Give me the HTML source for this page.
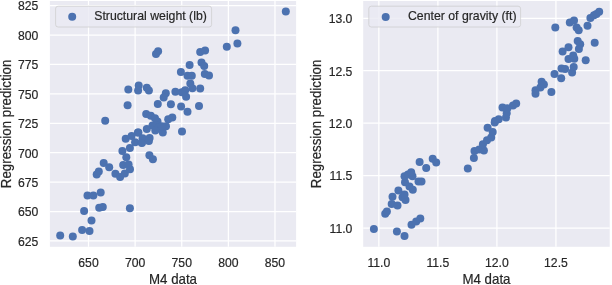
<!DOCTYPE html><html><head><meta charset="utf-8"><style>html,body{margin:0;padding:0;background:#fff;width:612px;height:285px;overflow:hidden}svg{display:block}text{font-family:"Liberation Sans",Arial,sans-serif;fill:#262626;stroke:#262626;stroke-width:0.18px}</style></head><body>
<svg width="612" height="285" viewBox="0 0 612 285">
<rect x="49.9" y="1.0" width="246.20" height="245.80" fill="#EAEAF2"/>
<line x1="88.50" y1="1.0" x2="88.50" y2="246.8" stroke="#fff" stroke-width="1.25"/>
<line x1="135.12" y1="1.0" x2="135.12" y2="246.8" stroke="#fff" stroke-width="1.25"/>
<line x1="181.74" y1="1.0" x2="181.74" y2="246.8" stroke="#fff" stroke-width="1.25"/>
<line x1="228.36" y1="1.0" x2="228.36" y2="246.8" stroke="#fff" stroke-width="1.25"/>
<line x1="274.98" y1="1.0" x2="274.98" y2="246.8" stroke="#fff" stroke-width="1.25"/>
<line x1="49.9" y1="240.94" x2="296.1" y2="240.94" stroke="#fff" stroke-width="1.25"/>
<line x1="49.9" y1="211.53" x2="296.1" y2="211.53" stroke="#fff" stroke-width="1.25"/>
<line x1="49.9" y1="182.12" x2="296.1" y2="182.12" stroke="#fff" stroke-width="1.25"/>
<line x1="49.9" y1="152.72" x2="296.1" y2="152.72" stroke="#fff" stroke-width="1.25"/>
<line x1="49.9" y1="123.31" x2="296.1" y2="123.31" stroke="#fff" stroke-width="1.25"/>
<line x1="49.9" y1="93.90" x2="296.1" y2="93.90" stroke="#fff" stroke-width="1.25"/>
<line x1="49.9" y1="64.49" x2="296.1" y2="64.49" stroke="#fff" stroke-width="1.25"/>
<line x1="49.9" y1="35.09" x2="296.1" y2="35.09" stroke="#fff" stroke-width="1.25"/>
<line x1="49.9" y1="5.68" x2="296.1" y2="5.68" stroke="#fff" stroke-width="1.25"/>
<circle cx="60.2" cy="235.6" r="4.0" fill="#4C72B0"/>
<circle cx="72.8" cy="236.6" r="4.0" fill="#4C72B0"/>
<circle cx="82.1" cy="230.1" r="4.0" fill="#4C72B0"/>
<circle cx="89.5" cy="231.1" r="4.0" fill="#4C72B0"/>
<circle cx="91.5" cy="220.5" r="4.0" fill="#4C72B0"/>
<circle cx="84.1" cy="211.1" r="4.0" fill="#4C72B0"/>
<circle cx="99.2" cy="207.8" r="4.0" fill="#4C72B0"/>
<circle cx="102.8" cy="207.1" r="4.0" fill="#4C72B0"/>
<circle cx="87.5" cy="195.6" r="4.0" fill="#4C72B0"/>
<circle cx="93.4" cy="195.4" r="4.0" fill="#4C72B0"/>
<circle cx="100.7" cy="192.5" r="4.0" fill="#4C72B0"/>
<circle cx="129.9" cy="208.3" r="4.0" fill="#4C72B0"/>
<circle cx="103.7" cy="163.0" r="4.0" fill="#4C72B0"/>
<circle cx="109.2" cy="167.2" r="4.0" fill="#4C72B0"/>
<circle cx="98.8" cy="171.5" r="4.0" fill="#4C72B0"/>
<circle cx="96.7" cy="174.4" r="4.0" fill="#4C72B0"/>
<circle cx="115.4" cy="173.8" r="4.0" fill="#4C72B0"/>
<circle cx="120.1" cy="177.1" r="4.0" fill="#4C72B0"/>
<circle cx="124.8" cy="173.6" r="4.0" fill="#4C72B0"/>
<circle cx="130.0" cy="169.3" r="4.0" fill="#4C72B0"/>
<circle cx="123.2" cy="165.1" r="4.0" fill="#4C72B0"/>
<circle cx="128.6" cy="164.4" r="4.0" fill="#4C72B0"/>
<circle cx="126.3" cy="157.2" r="4.0" fill="#4C72B0"/>
<circle cx="122.4" cy="150.9" r="4.0" fill="#4C72B0"/>
<circle cx="129.9" cy="148.0" r="4.0" fill="#4C72B0"/>
<circle cx="125.7" cy="138.7" r="4.0" fill="#4C72B0"/>
<circle cx="131.6" cy="136.0" r="4.0" fill="#4C72B0"/>
<circle cx="135.1" cy="142.3" r="4.0" fill="#4C72B0"/>
<circle cx="141.8" cy="142.6" r="4.0" fill="#4C72B0"/>
<circle cx="137.9" cy="132.5" r="4.0" fill="#4C72B0"/>
<circle cx="105.2" cy="120.8" r="4.0" fill="#4C72B0"/>
<circle cx="146.2" cy="113.9" r="4.0" fill="#4C72B0"/>
<circle cx="150.8" cy="115.8" r="4.0" fill="#4C72B0"/>
<circle cx="155.0" cy="118.3" r="4.0" fill="#4C72B0"/>
<circle cx="157.5" cy="121.5" r="4.0" fill="#4C72B0"/>
<circle cx="168.2" cy="119.3" r="4.0" fill="#4C72B0"/>
<circle cx="152.5" cy="125.5" r="4.0" fill="#4C72B0"/>
<circle cx="156.7" cy="125.5" r="4.0" fill="#4C72B0"/>
<circle cx="159.5" cy="126.9" r="4.0" fill="#4C72B0"/>
<circle cx="166.0" cy="126.3" r="4.0" fill="#4C72B0"/>
<circle cx="155.3" cy="130.4" r="4.0" fill="#4C72B0"/>
<circle cx="146.8" cy="129.0" r="4.0" fill="#4C72B0"/>
<circle cx="162.8" cy="132.4" r="4.0" fill="#4C72B0"/>
<circle cx="138.4" cy="132.5" r="4.0" fill="#4C72B0"/>
<circle cx="149.6" cy="138.0" r="4.0" fill="#4C72B0"/>
<circle cx="142.6" cy="138.2" r="4.0" fill="#4C72B0"/>
<circle cx="141.9" cy="143.1" r="4.0" fill="#4C72B0"/>
<circle cx="148.9" cy="141.1" r="4.0" fill="#4C72B0"/>
<circle cx="149.4" cy="155.2" r="4.0" fill="#4C72B0"/>
<circle cx="152.9" cy="159.2" r="4.0" fill="#4C72B0"/>
<circle cx="182.0" cy="131.4" r="4.0" fill="#4C72B0"/>
<circle cx="172.3" cy="117.5" r="4.0" fill="#4C72B0"/>
<circle cx="161.8" cy="126.3" r="4.0" fill="#4C72B0"/>
<circle cx="138.7" cy="85.6" r="4.0" fill="#4C72B0"/>
<circle cx="138.1" cy="90.5" r="4.0" fill="#4C72B0"/>
<circle cx="146.8" cy="87.7" r="4.0" fill="#4C72B0"/>
<circle cx="148.9" cy="90.5" r="4.0" fill="#4C72B0"/>
<circle cx="165.8" cy="93.3" r="4.0" fill="#4C72B0"/>
<circle cx="163.7" cy="97.5" r="4.0" fill="#4C72B0"/>
<circle cx="157.8" cy="104.1" r="4.0" fill="#4C72B0"/>
<circle cx="128.3" cy="89.5" r="4.0" fill="#4C72B0"/>
<circle cx="127.6" cy="105.3" r="4.0" fill="#4C72B0"/>
<circle cx="190.3" cy="83.4" r="4.0" fill="#4C72B0"/>
<circle cx="192.4" cy="88.2" r="4.0" fill="#4C72B0"/>
<circle cx="200.2" cy="88.6" r="4.0" fill="#4C72B0"/>
<circle cx="185.2" cy="90.2" r="4.0" fill="#4C72B0"/>
<circle cx="181.8" cy="92.2" r="4.0" fill="#4C72B0"/>
<circle cx="175.4" cy="91.8" r="4.0" fill="#4C72B0"/>
<circle cx="186.1" cy="96.8" r="4.0" fill="#4C72B0"/>
<circle cx="170.9" cy="104.2" r="4.0" fill="#4C72B0"/>
<circle cx="181.1" cy="106.5" r="4.0" fill="#4C72B0"/>
<circle cx="187.5" cy="111.7" r="4.0" fill="#4C72B0"/>
<circle cx="199.0" cy="105.9" r="4.0" fill="#4C72B0"/>
<circle cx="158.1" cy="51.2" r="4.0" fill="#4C72B0"/>
<circle cx="156.0" cy="54.0" r="4.0" fill="#4C72B0"/>
<circle cx="200.2" cy="51.9" r="4.0" fill="#4C72B0"/>
<circle cx="205.1" cy="50.5" r="4.0" fill="#4C72B0"/>
<circle cx="201.5" cy="62.6" r="4.0" fill="#4C72B0"/>
<circle cx="204.2" cy="66.1" r="4.0" fill="#4C72B0"/>
<circle cx="189.6" cy="65.0" r="4.0" fill="#4C72B0"/>
<circle cx="180.9" cy="72.0" r="4.0" fill="#4C72B0"/>
<circle cx="187.5" cy="75.8" r="4.0" fill="#4C72B0"/>
<circle cx="191.8" cy="75.8" r="4.0" fill="#4C72B0"/>
<circle cx="204.8" cy="73.9" r="4.0" fill="#4C72B0"/>
<circle cx="209.0" cy="75.4" r="4.0" fill="#4C72B0"/>
<circle cx="235.5" cy="30.2" r="4.0" fill="#4C72B0"/>
<circle cx="237.4" cy="43.6" r="4.0" fill="#4C72B0"/>
<circle cx="226.8" cy="46.7" r="4.0" fill="#4C72B0"/>
<circle cx="285.8" cy="11.4" r="4.0" fill="#4C72B0"/>
<rect x="55.6" y="6.2" width="156.00" height="20.80" rx="2.5" fill="#EAEAF2" fill-opacity="0.8" stroke="#cccccc" stroke-opacity="0.8" stroke-width="0.9"/>
<circle cx="72.2" cy="16.8" r="4.0" fill="#4C72B0"/>
<text transform="translate(94.20 20.30) scale(1 1.03)" font-size="12.3">Structural weight (lb)</text>
<text transform="translate(88.50 267.00) scale(1 1.06)" font-size="12.2" text-anchor="middle">650</text>
<text transform="translate(135.12 267.00) scale(1 1.06)" font-size="12.2" text-anchor="middle">700</text>
<text transform="translate(181.74 267.00) scale(1 1.06)" font-size="12.2" text-anchor="middle">750</text>
<text transform="translate(228.36 267.00) scale(1 1.06)" font-size="12.2" text-anchor="middle">800</text>
<text transform="translate(274.98 267.00) scale(1 1.06)" font-size="12.2" text-anchor="middle">850</text>
<text transform="translate(38.40 245.74) scale(1 1.06)" font-size="12.2" text-anchor="end">625</text>
<text transform="translate(38.40 216.33) scale(1 1.06)" font-size="12.2" text-anchor="end">650</text>
<text transform="translate(38.40 186.92) scale(1 1.06)" font-size="12.2" text-anchor="end">675</text>
<text transform="translate(38.40 157.52) scale(1 1.06)" font-size="12.2" text-anchor="end">700</text>
<text transform="translate(38.40 128.11) scale(1 1.06)" font-size="12.2" text-anchor="end">725</text>
<text transform="translate(38.40 98.70) scale(1 1.06)" font-size="12.2" text-anchor="end">750</text>
<text transform="translate(38.40 69.29) scale(1 1.06)" font-size="12.2" text-anchor="end">775</text>
<text transform="translate(38.40 39.89) scale(1 1.06)" font-size="12.2" text-anchor="end">800</text>
<text transform="translate(38.40 10.48) scale(1 1.06)" font-size="12.2" text-anchor="end">825</text>
<text transform="translate(173.00 283.90) scale(1 1.05)" font-size="13.3" text-anchor="middle">M4 data</text>
<text transform="translate(10.90 123.90) rotate(-90) scale(1 1.05)" font-size="13.3" text-anchor="middle">Regression prediction</text>
<rect x="363.2" y="1.0" width="246.50" height="245.80" fill="#EAEAF2"/>
<line x1="378.85" y1="1.0" x2="378.85" y2="246.8" stroke="#fff" stroke-width="1.25"/>
<line x1="437.88" y1="1.0" x2="437.88" y2="246.8" stroke="#fff" stroke-width="1.25"/>
<line x1="496.91" y1="1.0" x2="496.91" y2="246.8" stroke="#fff" stroke-width="1.25"/>
<line x1="555.94" y1="1.0" x2="555.94" y2="246.8" stroke="#fff" stroke-width="1.25"/>
<line x1="363.2" y1="228.00" x2="609.7" y2="228.00" stroke="#fff" stroke-width="1.25"/>
<line x1="363.2" y1="175.57" x2="609.7" y2="175.57" stroke="#fff" stroke-width="1.25"/>
<line x1="363.2" y1="123.15" x2="609.7" y2="123.15" stroke="#fff" stroke-width="1.25"/>
<line x1="363.2" y1="70.73" x2="609.7" y2="70.73" stroke="#fff" stroke-width="1.25"/>
<line x1="363.2" y1="18.30" x2="609.7" y2="18.30" stroke="#fff" stroke-width="1.25"/>
<circle cx="373.9" cy="229.0" r="4.0" fill="#4C72B0"/>
<circle cx="396.9" cy="231.6" r="4.0" fill="#4C72B0"/>
<circle cx="404.5" cy="236.1" r="4.0" fill="#4C72B0"/>
<circle cx="411.5" cy="224.7" r="4.0" fill="#4C72B0"/>
<circle cx="416.2" cy="221.6" r="4.0" fill="#4C72B0"/>
<circle cx="420.3" cy="218.4" r="4.0" fill="#4C72B0"/>
<circle cx="385.2" cy="213.7" r="4.0" fill="#4C72B0"/>
<circle cx="386.9" cy="211.4" r="4.0" fill="#4C72B0"/>
<circle cx="391.7" cy="204.0" r="4.0" fill="#4C72B0"/>
<circle cx="397.5" cy="205.4" r="4.0" fill="#4C72B0"/>
<circle cx="392.5" cy="196.8" r="4.0" fill="#4C72B0"/>
<circle cx="402.5" cy="197.2" r="4.0" fill="#4C72B0"/>
<circle cx="405.5" cy="200.0" r="4.0" fill="#4C72B0"/>
<circle cx="398.4" cy="190.5" r="4.0" fill="#4C72B0"/>
<circle cx="404.5" cy="194.4" r="4.0" fill="#4C72B0"/>
<circle cx="409.5" cy="186.6" r="4.0" fill="#4C72B0"/>
<circle cx="412.8" cy="189.8" r="4.0" fill="#4C72B0"/>
<circle cx="405.0" cy="182.3" r="4.0" fill="#4C72B0"/>
<circle cx="418.5" cy="181.5" r="4.0" fill="#4C72B0"/>
<circle cx="421.5" cy="181.5" r="4.0" fill="#4C72B0"/>
<circle cx="404.5" cy="176.3" r="4.0" fill="#4C72B0"/>
<circle cx="408.0" cy="174.6" r="4.0" fill="#4C72B0"/>
<circle cx="412.5" cy="176.2" r="4.0" fill="#4C72B0"/>
<circle cx="411.2" cy="172.3" r="4.0" fill="#4C72B0"/>
<circle cx="419.6" cy="161.9" r="4.0" fill="#4C72B0"/>
<circle cx="426.2" cy="167.9" r="4.0" fill="#4C72B0"/>
<circle cx="432.7" cy="158.8" r="4.0" fill="#4C72B0"/>
<circle cx="436.2" cy="162.6" r="4.0" fill="#4C72B0"/>
<circle cx="467.8" cy="168.6" r="4.0" fill="#4C72B0"/>
<circle cx="473.9" cy="157.9" r="4.0" fill="#4C72B0"/>
<circle cx="474.5" cy="150.9" r="4.0" fill="#4C72B0"/>
<circle cx="479.2" cy="149.6" r="4.0" fill="#4C72B0"/>
<circle cx="483.9" cy="150.5" r="4.0" fill="#4C72B0"/>
<circle cx="482.9" cy="144.3" r="4.0" fill="#4C72B0"/>
<circle cx="487.0" cy="140.2" r="4.0" fill="#4C72B0"/>
<circle cx="491.2" cy="137.6" r="4.0" fill="#4C72B0"/>
<circle cx="492.7" cy="131.9" r="4.0" fill="#4C72B0"/>
<circle cx="487.6" cy="127.7" r="4.0" fill="#4C72B0"/>
<circle cx="495.0" cy="121.0" r="4.0" fill="#4C72B0"/>
<circle cx="498.7" cy="119.2" r="4.0" fill="#4C72B0"/>
<circle cx="494.7" cy="122.4" r="4.0" fill="#4C72B0"/>
<circle cx="506.0" cy="117.5" r="4.0" fill="#4C72B0"/>
<circle cx="506.7" cy="113.2" r="4.0" fill="#4C72B0"/>
<circle cx="502.5" cy="107.6" r="4.0" fill="#4C72B0"/>
<circle cx="507.4" cy="108.3" r="4.0" fill="#4C72B0"/>
<circle cx="513.0" cy="105.5" r="4.0" fill="#4C72B0"/>
<circle cx="516.2" cy="103.4" r="4.0" fill="#4C72B0"/>
<circle cx="535.5" cy="90.2" r="4.0" fill="#4C72B0"/>
<circle cx="535.5" cy="93.7" r="4.0" fill="#4C72B0"/>
<circle cx="540.4" cy="87.4" r="4.0" fill="#4C72B0"/>
<circle cx="541.6" cy="81.8" r="4.0" fill="#4C72B0"/>
<circle cx="543.9" cy="84.6" r="4.0" fill="#4C72B0"/>
<circle cx="551.4" cy="92.0" r="4.0" fill="#4C72B0"/>
<circle cx="554.5" cy="74.0" r="4.0" fill="#4C72B0"/>
<circle cx="561.2" cy="78.2" r="4.0" fill="#4C72B0"/>
<circle cx="561.5" cy="68.4" r="4.0" fill="#4C72B0"/>
<circle cx="565.1" cy="69.0" r="4.0" fill="#4C72B0"/>
<circle cx="572.1" cy="72.5" r="4.0" fill="#4C72B0"/>
<circle cx="573.7" cy="66.9" r="4.0" fill="#4C72B0"/>
<circle cx="568.5" cy="59.0" r="4.0" fill="#4C72B0"/>
<circle cx="574.3" cy="58.8" r="4.0" fill="#4C72B0"/>
<circle cx="573.2" cy="55.6" r="4.0" fill="#4C72B0"/>
<circle cx="585.7" cy="60.2" r="4.0" fill="#4C72B0"/>
<circle cx="562.6" cy="51.6" r="4.0" fill="#4C72B0"/>
<circle cx="568.5" cy="47.3" r="4.0" fill="#4C72B0"/>
<circle cx="577.7" cy="40.9" r="4.0" fill="#4C72B0"/>
<circle cx="580.2" cy="44.2" r="4.0" fill="#4C72B0"/>
<circle cx="578.9" cy="48.9" r="4.0" fill="#4C72B0"/>
<circle cx="594.7" cy="42.8" r="4.0" fill="#4C72B0"/>
<circle cx="555.3" cy="27.4" r="4.0" fill="#4C72B0"/>
<circle cx="569.8" cy="22.6" r="4.0" fill="#4C72B0"/>
<circle cx="574.0" cy="20.5" r="4.0" fill="#4C72B0"/>
<circle cx="576.6" cy="27.4" r="4.0" fill="#4C72B0"/>
<circle cx="578.7" cy="30.2" r="4.0" fill="#4C72B0"/>
<circle cx="587.5" cy="25.7" r="4.0" fill="#4C72B0"/>
<circle cx="590.4" cy="17.9" r="4.0" fill="#4C72B0"/>
<circle cx="594.0" cy="15.2" r="4.0" fill="#4C72B0"/>
<circle cx="596.5" cy="13.9" r="4.0" fill="#4C72B0"/>
<circle cx="599.2" cy="11.8" r="4.0" fill="#4C72B0"/>
<rect x="368.8" y="6.2" width="151.80" height="20.80" rx="2.5" fill="#EAEAF2" fill-opacity="0.8" stroke="#cccccc" stroke-opacity="0.8" stroke-width="0.9"/>
<circle cx="385.7" cy="17.1" r="4.0" fill="#4C72B0"/>
<text transform="translate(408.00 20.30) scale(1 1.03)" font-size="12.3">Center of gravity (ft)</text>
<text transform="translate(378.85 267.00) scale(1 1.06)" font-size="12.2" text-anchor="middle">11.0</text>
<text transform="translate(437.88 267.00) scale(1 1.06)" font-size="12.2" text-anchor="middle">11.5</text>
<text transform="translate(496.91 267.00) scale(1 1.06)" font-size="12.2" text-anchor="middle">12.0</text>
<text transform="translate(555.94 267.00) scale(1 1.06)" font-size="12.2" text-anchor="middle">12.5</text>
<text transform="translate(352.40 232.80) scale(1 1.06)" font-size="12.2" text-anchor="end">11.0</text>
<text transform="translate(352.40 180.38) scale(1 1.06)" font-size="12.2" text-anchor="end">11.5</text>
<text transform="translate(352.40 127.95) scale(1 1.06)" font-size="12.2" text-anchor="end">12.0</text>
<text transform="translate(352.40 75.53) scale(1 1.06)" font-size="12.2" text-anchor="end">12.5</text>
<text transform="translate(352.40 23.10) scale(1 1.06)" font-size="12.2" text-anchor="end">13.0</text>
<text transform="translate(486.45 283.90) scale(1 1.05)" font-size="13.3" text-anchor="middle">M4 data</text>
<text transform="translate(321.20 123.90) rotate(-90) scale(1 1.05)" font-size="13.3" text-anchor="middle">Regression prediction</text>
</svg></body></html>
